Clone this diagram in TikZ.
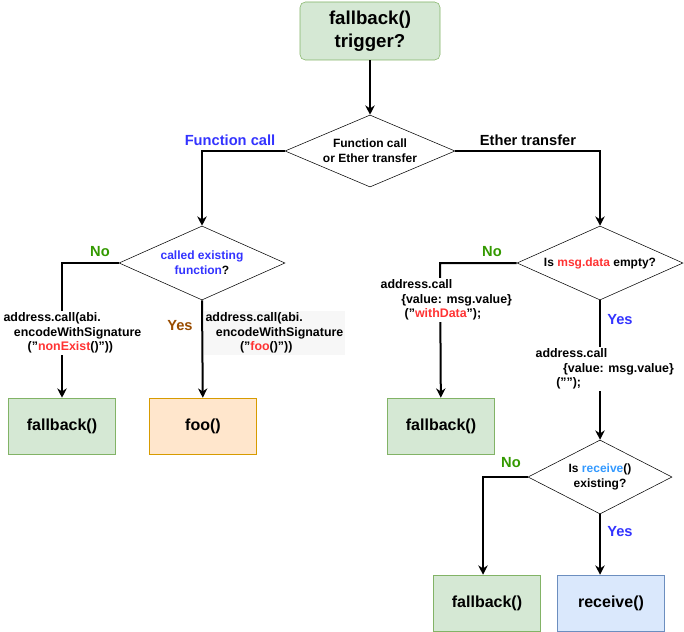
\documentclass[tikz,border=0pt]{standalone}
\usepackage{fontspec}
\setmainfont{Liberation Sans}
\usetikzlibrary{shapes.geometric,arrows.meta}
\definecolor{gfill}{HTML}{D5E8D4}\definecolor{gline}{HTML}{82B366}
\definecolor{ofill}{HTML}{FFE6CC}\definecolor{oline}{HTML}{D79B00}
\definecolor{bfill}{HTML}{DAE8FC}\definecolor{bline}{HTML}{6C8EBF}
\definecolor{myblue}{HTML}{3333FF}\definecolor{mygreen}{HTML}{339900}
\definecolor{mybrown}{HTML}{994C00}\definecolor{myred}{HTML}{FF3333}
\definecolor{lblue}{HTML}{3399FF}
\newcommand{\dq}{\symbol{34}}
\begin{document}
\begin{tikzpicture}[x=0.75pt,y=-0.75pt,font=\bfseries,
  box/.style={draw,minimum width=80.25pt,minimum height=42pt,font=\bfseries\fontsize{12}{14}\selectfont},
  dec/.style={diamond,draw,aspect=2.3,inner sep=0pt,align=center,font=\bfseries\fontsize{9}{11}\selectfont},
  arr/.style={line width=1.5pt,-{Stealth[length=7pt,width=7pt]}},
  lab/.style={font=\bfseries\fontsize{11}{13}\selectfont},
  code/.style={align=left,anchor=west,font=\bfseries\fontsize{9.3}{11}\selectfont,fill=white,inner sep=1pt}]
\useasboundingbox (0,0) rectangle (684,631);
\node[box,rounded corners=4pt,fill=gfill,draw=gline,minimum width=105pt,minimum height=43.5pt,align=center,font=\bfseries\fontsize{14}{17}\selectfont] (t) at (370,31) {fallback()\\trigger?};
\node[dec,minimum width=127.5pt,minimum height=54pt] (d1) at (370,151) {Function call\\or Ether transfer};
\node[dec,minimum width=124.5pt,minimum height=55.5pt] (d2) at (202,263) {\textcolor{myblue}{called existing}\\\textcolor{myblue}{function}?};
\node[dec,minimum width=124.5pt,minimum height=55.5pt] (d3) at (600,263) {Is \textcolor{myred}{msg.data} empty?};
\node[dec,minimum width=108pt,minimum height=55.5pt] (d4) at (600,477) {Is \textcolor{lblue}{receive}()\\existing?};
\node[box,fill=gfill,draw=gline] (f1) at (62,426) {fallback()};
\node[box,fill=ofill,draw=oline] (foo) at (203,426) {foo()};
\node[box,fill=gfill,draw=gline] (f2) at (441,426) {fallback()};
\node[box,fill=gfill,draw=gline] (f3) at (487,603) {fallback()};
\node[box,fill=bfill,draw=bline] (rc) at (611,603) {receive()};
\coordinate (c1) at (202,151); \coordinate (c2) at (600,151);
\coordinate (c3) at (62,263); \coordinate (c4) at (440,263);
\coordinate (c5) at (483,477);
\draw[arr] (t) -- (d1);
\draw[arr] (d1.west) -- (c1) -- (d2.north);
\draw[arr] (d1.east) -- (c2) -- (d3.north);
\draw[arr] (d2.west) -- (c3) -- (f1);
\draw[arr] (d2.south) -- (foo);
\draw[arr] (d3.west) -- (c4) -- (f2);
\draw[arr] (d3.south) -- (d4.north);
\draw[arr] (d4.west) -- (c5) -- (f3.north -| c5);
\draw[arr] (d4.south) -- (rc.north -| d4.south);
\node[lab,text=myblue] (l1) at (230,140) {Function call};
\node[lab] (l2) at (528,140) {Ether transfer};
\node[lab,text=mygreen] (l3) at (100,252) {No};
\node[lab,text=mybrown] (l4) at (180,326) {Yes};
\node[lab,text=mygreen] (l5) at (492,252) {No};
\node[lab,text=myblue] (l6) at (620,320) {Yes};
\node[lab,text=mygreen] (l7) at (511,463) {No};
\node[lab,text=myblue] (l8) at (620,532) {Yes};
\node[code] (k1) at (2,333) {address.call(abi.\\\ \ \ encodeWithSignature\\\ \ \ \ \ \ \ (\dq\textcolor{myred}{nonExist}()\dq))};
\node[code,fill=gray!6] (k2) at (204,333) {address.call(abi.\\\ \ \ encodeWithSignature\\\ \ \ \ \ \ \ \ \ \ (\dq\textcolor{myred}{foo}()\dq))};
\node[code] (k3) at (379,300) {address.call\\\ \ \ \ \ \ \{value: msg.value\}\\\ \ \ \ \ \ \ (\dq\textcolor{myred}{withData}\dq);};
\node[code] (k4) at (534,369) {address.call\\\ \ \ \ \ \ \ \ \{value: msg.value\}\\\ \ \ \ \ \ (\dq\dq);};
\end{tikzpicture}
\end{document}
